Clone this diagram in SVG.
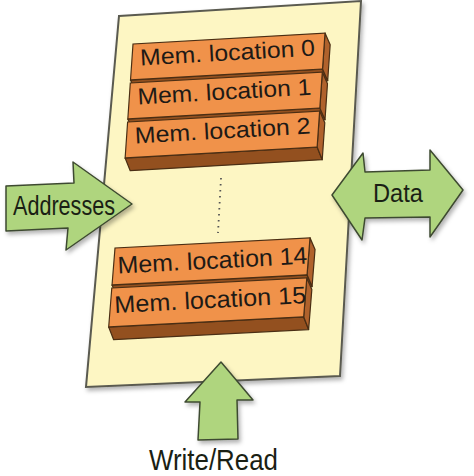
<svg xmlns="http://www.w3.org/2000/svg" width="474" height="476" viewBox="0 0 474 476">
<defs>
<filter id="sh" x="-20%" y="-20%" width="140%" height="140%">
<feDropShadow dx="2" dy="3" stdDeviation="2" flood-color="#000" flood-opacity="0.3"/>
</filter>
<style>
.front{fill:#f0924a;stroke:#4a2e14;stroke-width:1.2}
.side{fill:#b0622c;stroke:#4a2e14;stroke-width:1.2;stroke-linejoin:round}
.bot{fill:#93501f;stroke:#4a2e14;stroke-width:1.2;stroke-linejoin:round}
.lbl{font-family:"Liberation Sans",Arial,sans-serif;fill:#1e1a16}
.arrow{fill:#afd57e;stroke:#3e4a30;stroke-width:1.5;stroke-linejoin:round;filter:url(#sh)}
.atxt{font-family:"Liberation Sans",Arial,sans-serif;fill:#1a1f14}
</style>
</defs>
<rect width="474" height="476" fill="#ffffff"/>
<g id="panel">
<polygon points="119,16 361,1 340,376 86,387" fill="#fdf6c3" stroke="#5a5a50" stroke-width="2" filter="url(#sh)"/>
</g>
<g id="connectors">
<line x1="221" y1="178" x2="218" y2="233" stroke="#555" stroke-width="1.8" stroke-dasharray="1.5 4.5"/>
</g>
<g id="loc0">
<g transform="matrix(1,-0.057,-0.069,1,133,44)">
<polygon class="bot" points="0,36 192,36 198,48 6,48"/>
<polygon class="side" points="192,0 198,12 198,48 192,36"/>
<rect class="front" x="0" y="0" width="192" height="36"/>
</g>
<text class="lbl" x="140.6" y="65.5" font-size="23" textLength="175" lengthAdjust="spacingAndGlyphs" transform="rotate(-3.26 140.6 65.5)">Mem. location 0</text>
</g>
<g id="loc1">
<g transform="matrix(1,-0.057,-0.069,1,133,44)">
<polygon class="bot" points="0,75 192,75 198,87 6,87"/>
<polygon class="side" points="192,39 198,51 198,87 192,75"/>
<rect class="front" x="0" y="39" width="192" height="36"/>
</g>
<text class="lbl" x="137.9" y="104.5" font-size="23" textLength="174" lengthAdjust="spacingAndGlyphs" transform="rotate(-3.26 137.9 104.5)">Mem. location 1</text>
</g>
<g id="loc2">
<g transform="matrix(1,-0.057,-0.069,1,133,44)">
<polygon class="bot" points="0,114 192,114 198,127 6,127"/>
<polygon class="side" points="192,78 198,90 198,127 192,114"/>
<rect class="front" x="0" y="78" width="192" height="36"/>
</g>
<text class="lbl" x="135.2" y="143.5" font-size="23" textLength="176" lengthAdjust="spacingAndGlyphs" transform="rotate(-3.26 135.2 143.5)">Mem. location 2</text>
</g>
<g id="loc14">
<g transform="matrix(1,-0.052,-0.08,1,115,248)">
<polygon class="bot" points="0,37 195,37 201,49 6,49"/>
<polygon class="side" points="195,0 201,12 201,49 195,37"/>
<rect class="front" x="0" y="0" width="195" height="37"/>
</g>
<text class="lbl" x="118" y="273.5" font-size="24" textLength="190" lengthAdjust="spacingAndGlyphs" transform="rotate(-2.98 118 273.5)">Mem. location 14</text>
</g>
<g id="loc15">
<g transform="matrix(1,-0.052,-0.08,1,115,248)">
<polygon class="bot" points="0,79 195,79 201,92 6,92"/>
<polygon class="side" points="195,40 201,52 201,92 195,79"/>
<rect class="front" x="0" y="40" width="195" height="39"/>
</g>
<text class="lbl" x="114.8" y="313" font-size="24" textLength="192" lengthAdjust="spacingAndGlyphs" transform="rotate(-2.98 114.8 313)">Mem. location 15</text>
</g>
<g id="addresses">
<polygon class="arrow" points="6,186 74,183 73,162 132,204 66,250 68,228 6,231"/>
<text class="atxt" x="13" y="215" font-size="27" textLength="102" lengthAdjust="spacingAndGlyphs">Addresses</text>
</g>
<g id="data">
<polygon class="arrow" points="332,195 363,153 365,172 430,170 430,150 463,190 430,237 430,217 365,218 362,240"/>
<text class="atxt" x="373" y="202" font-size="26" textLength="50" lengthAdjust="spacingAndGlyphs">Data</text>
</g>
<g id="writeread">
<polygon class="arrow" points="221,362 253,400 237,400 238,439 198,440 200,402 185,402"/>
<text class="atxt" x="149" y="470" font-size="29" textLength="129" lengthAdjust="spacingAndGlyphs" fill="#333">Write/Read</text>
</g>
</svg>
